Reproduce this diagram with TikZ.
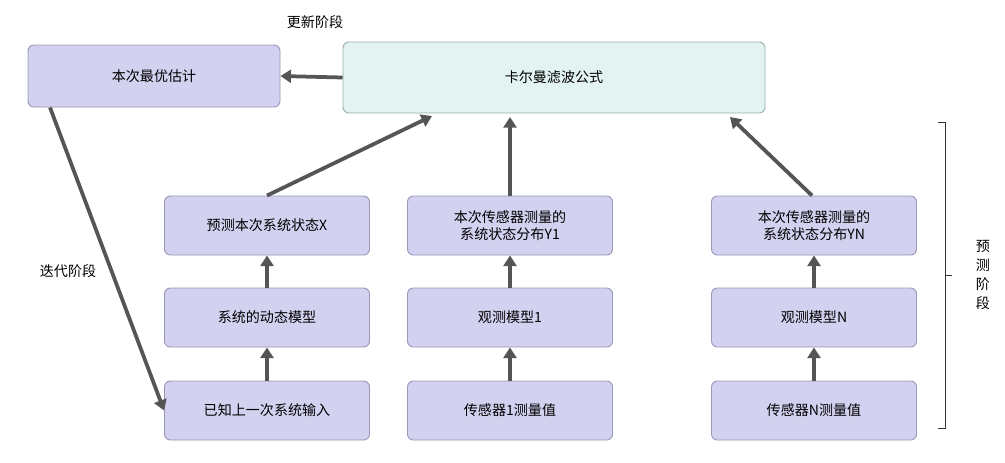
\documentclass[tikz,border=0pt]{standalone}
\usepackage{fontspec}
\setmainfont{Noto Sans CJK SC}
\usetikzlibrary{arrows.meta}
\definecolor{boxf}{HTML}{D3D1F0}
\definecolor{boxd}{HTML}{9A98B8}
\definecolor{kf}{HTML}{E2F3F1}
\definecolor{kd}{HTML}{9AAFAD}
\definecolor{arr}{HTML}{555555}
\begin{document}
\begin{tikzpicture}[x=0.03cm,y=-0.03cm,
  box/.style={draw=boxd,fill=boxf,rounded corners=5pt,line width=0.8pt,align=center,font=\fontsize{12}{15}\selectfont,inner sep=0pt},
  kbox/.style={box,fill=kf,draw=kd},
  ar/.style={draw=arr,line width=3.2pt,-{Triangle[length=9pt,width=11pt]}},
  lab/.style={font=\fontsize{12}{15}\selectfont}]
\useasboundingbox (0,0) rectangle (1005,462);
\newcommand{\bx}[6]{\node[#6,minimum width=#4*0.03cm,minimum height=#5*0.03cm] (#1) at (#2,#3) {\strut #1text};}
\node[box,minimum width=252*0.03cm,minimum height=62*0.03cm] (best) at (154,76) {本次最优估计};
\node[kbox,minimum width=422*0.03cm,minimum height=71*0.03cm] (kal) at (554,77.5) {卡尔曼滤波公式};
\foreach \n/\x/\y/\t in {a1/267/225.5/预测本次系统状态X, a2/267/317.5/系统的动态模型, a3/267/410.5/已知上一次系统输入,
  b1/510/225.5/{本次传感器测量的\\系统状态分布Y1}, b2/510/317.5/观测模型1, b3/510/410.5/传感器1测量值,
  c1/814/225.5/{本次传感器测量的\\系统状态分布YN}, c2/814/317.5/观测模型N, c3/814/410.5/传感器N测量值}
  \node[box,minimum width=205*0.03cm,minimum height=59*0.03cm] (\n) at (\x,\y) {\t};
\draw[ar] (kal.west) -- (best.east);
\draw[ar] ([xshift=-104*0.03cm]best.south) -- (a3.west);
\draw[ar] (a1.north) -- (432,116);
\draw[ar] (b1.north) -- (510,117);
\draw[ar] ([xshift=-2*0.03cm]c1.north) -- (730,117);
\foreach \c in {a,b,c}{
  \draw[ar] (\c3.north) -- (\c2.south);
  \draw[ar] (\c2.north) -- (\c1.south);}
\node[lab] (upd) at (315,22) {更新阶段};
\node[lab] (it) at (68,271) {迭代阶段};
\node[lab,align=center,font=\fontsize{12}{16}\selectfont] (pr) at (983,275) {预\\测\\阶\\段};
\draw[line width=0.8pt,black!80] (938,122) -- (945,122) -- (945,428) -- (938,428);
\draw[line width=0.8pt,black!80] (945,275) -- (952,275);
\end{tikzpicture}
\end{document}
